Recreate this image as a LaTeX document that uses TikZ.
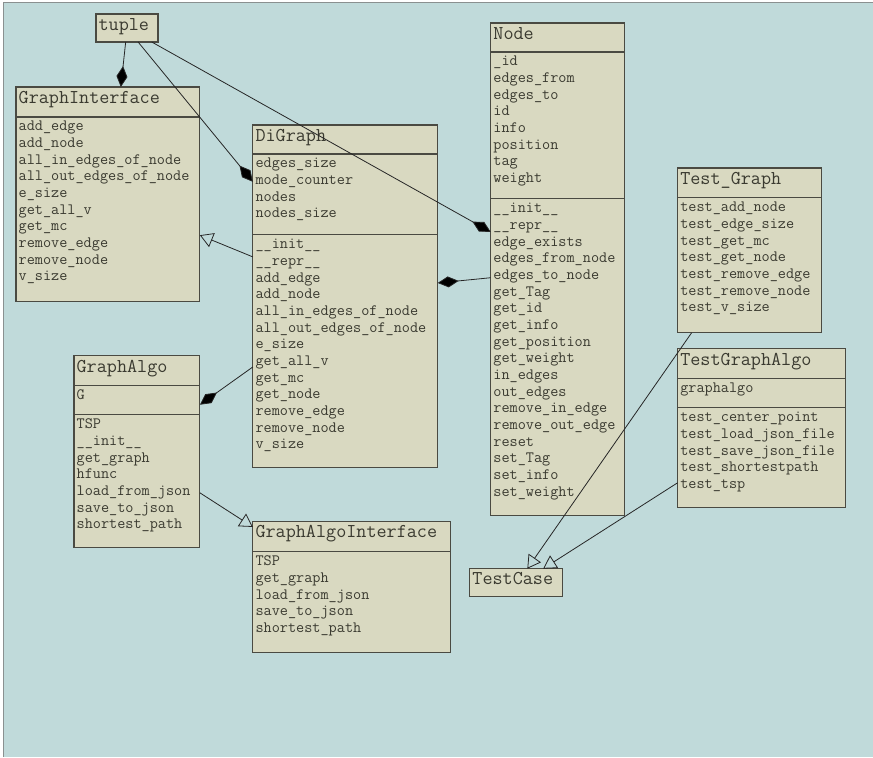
\documentclass[tikz,border=0pt]{standalone}
\usepackage{fontspec}
\newcommand\umlfont{\ttfamily}
\usetikzlibrary{arrows.meta,calc}
\definecolor{bgc}{HTML}{C0DADA}
\definecolor{boxfill}{HTML}{D9D9C1}
\definecolor{boxline}{HTML}{4A4A42}
\definecolor{txt}{HTML}{3A3A30}
\definecolor{framec}{HTML}{8A9090}
\newcommand{\umlbox}[6]{%
  \node[cls, minimum width={(#4-#2)*1pt}, minimum height={(#5-#3)*1pt}, anchor=north west] (#1) at (#2,#3) {};
  \node[ttl] (#1-t) at ({#2+2.5},{#3+16.3}) {#6};
}
\newcommand{\umlsep}[4]{\draw[sepl] (#2,#4) -- (#3,#4);}
\newcommand{\umlitems}[4]{%
  \foreach \s [count=\i from 0] in {#4} \node[itm] (#1-#2\i) at ({#3+2.5},{\umly+14+16.67*\i}) {\s};
}
\begin{document}
\begin{tikzpicture}[x=1pt,y=-1pt,
  cls/.style={draw=boxline, fill=boxfill, line width=1.2pt, inner sep=0pt, outer sep=0pt},
  sepl/.style={draw=boxline, line width=1.2pt},
  ttl/.style={anchor=base west, inner sep=0pt, font=\umlfont\fontsize{19.6}{22}\selectfont, text=txt},
  itm/.style={anchor=base west, inner sep=0pt, font=\umlfont\fontsize{15.8}{18}\selectfont, text=txt},
  comp/.style={draw=black!85, line width=0.8pt, -{Diamond[length=21pt,width=11pt,fill=black]}},
  gen/.style={draw=black!85, line width=0.8pt, -{Triangle[open,length=13pt,width=15pt]}}]
% background and frame
\fill[white] (0,0) rectangle (873,757);
\fill[bgc] (4,3) rectangle (873,757);
\draw[framec, line width=1pt] (3.5,757) -- (3.5,2.5) -- (873,2.5);
\useasboundingbox (0,0) rectangle (873,757);

% tuple
\umlbox{tuple}{96}{14}{158}{42}{tuple}
% GraphInterface
\umlbox{gi}{16}{87}{200}{302}{GraphInterface}
\umlsep{gi}{16}{200}{117}
\def\umly{117}
\umlitems{gi}{m}{16}{add\_edge,add\_node,all\_in\_edges\_of\_node,all\_out\_edges\_of\_node,e\_size,get\_all\_v,get\_mc,remove\_edge,remove\_node,v\_size}
% DiGraph
\umlbox{dg}{253}{125}{438}{468}{DiGraph}
\umlsep{dg}{253}{438}{154}
\umlsep{dg}{253}{438}{235}
\def\umly{154}
\umlitems{dg}{a}{253}{edges\_size,mode\_counter,nodes,nodes\_size}
\def\umly{235}
\umlitems{dg}{m}{253}{\_\_init\_\_,\_\_repr\_\_,add\_edge,add\_node,all\_in\_edges\_of\_node,all\_out\_edges\_of\_node,e\_size,get\_all\_v,get\_mc,get\_node,remove\_edge,remove\_node,v\_size}
% Node
\umlbox{nd}{491}{23}{625}{516}{Node}
\umlsep{nd}{491}{625}{52}
\umlsep{nd}{491}{625}{199}
\def\umly{52}
\umlitems{nd}{a}{491}{\_id,edges\_from,edges\_to,id,info,position,tag,weight}
\def\umly{199}
\umlitems{nd}{m}{491}{\_\_init\_\_,\_\_repr\_\_,edge\_exists,edges\_from\_node,edges\_to\_node,get\_Tag,get\_id,get\_info,get\_position,get\_weight,in\_edges,out\_edges,remove\_in\_edge,remove\_out\_edge,reset,set\_Tag,set\_info,set\_weight}
% Test_Graph
\umlbox{tg}{678}{168}{822}{333}{Test\_Graph}
\umlsep{tg}{678}{822}{198}
\def\umly{198}
\umlitems{tg}{m}{678}{test\_add\_node,test\_edge\_size,test\_get\_mc,test\_get\_node,test\_remove\_edge,test\_remove\_node,test\_v\_size}
% TestGraphAlgo
\umlbox{tga}{678}{349}{846}{508}{TestGraphAlgo}
\umlsep{tga}{678}{846}{379}
\umlsep{tga}{678}{846}{408}
\def\umly{379}
\umlitems{tga}{a}{678}{graphalgo}
\def\umly{408}
\umlitems{tga}{m}{678}{test\_center\_point,test\_load\_json\_file,test\_save\_json\_file,test\_shortestpath,test\_tsp}
% GraphAlgo
\umlbox{ga}{74}{356}{200}{548}{GraphAlgo}
\umlsep{ga}{74}{200}{386}
\umlsep{ga}{74}{200}{415}
\def\umly{386}
\umlitems{ga}{a}{74}{G}
\def\umly{415}
\umlitems{ga}{m}{74}{TSP,\_\_init\_\_,get\_graph,hfunc,load\_from\_json,save\_to\_json,shortest\_path}
% GraphAlgoInterface
\umlbox{gai}{253}{522}{451}{653}{GraphAlgoInterface}
\umlsep{gai}{253}{451}{552}
\def\umly{552}
\umlitems{gai}{m}{253}{TSP,get\_graph,load\_from\_json,save\_to\_json,shortest\_path}
% TestCase
\umlbox{tc}{470}{569}{563}{597}{TestCase}

% connectors
\draw[comp] ($(tuple.south west)!0.48!(tuple.south east)$) -- ($(gi.north west)!0.57!(gi.north east)$);
\draw[comp] ($(tuple.south west)!0.68!(tuple.south east)$) -- ($(dg.north west)!0.166!(dg.south west)$);
\draw[comp] ($(tuple.south west)!0.90!(tuple.south east)$) -- ($(nd.north west)!0.424!(nd.south west)$);
\draw[gen] ($(dg.north west)!0.385!(dg.south west)$) -- ($(gi.north east)!0.69!(gi.south east)$);
\draw[comp] ($(nd.north west)!0.517!(nd.south west)$) -- ($(dg.north east)!0.461!(dg.south east)$);
\draw[comp] ($(dg.north west)!0.706!(dg.south west)$) -- ($(ga.north east)!0.255!(ga.south east)$);
\draw[gen] ($(ga.north east)!0.714!(ga.south east)$) -- ($(gai.north west)!0.04!(gai.south west)$);
\draw[gen] ($(tg.south west)!0.097!(tg.south east)$) -- ($(tc.north west)!0.62!(tc.north east)$);
\draw[gen] ($(tga.north west)!0.843!(tga.south west)$) -- ($(tc.north west)!0.79!(tc.north east)$);
\end{tikzpicture}
\end{document}
